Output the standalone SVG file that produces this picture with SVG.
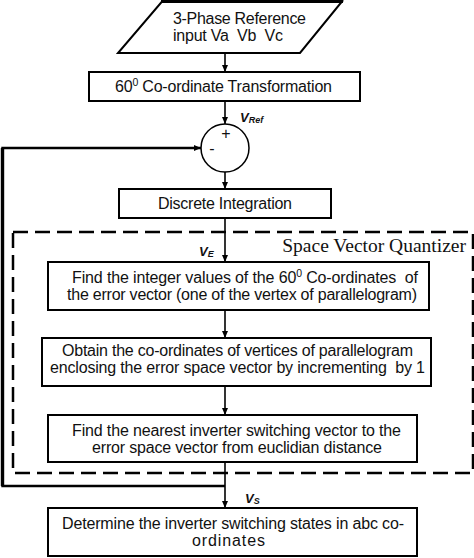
<svg xmlns="http://www.w3.org/2000/svg" width="474" height="558" viewBox="0 0 474 558">
<defs>
<marker id="ah" markerWidth="8" markerHeight="6" refX="7" refY="3" orient="auto" markerUnits="userSpaceOnUse"><path d="M0,0 L7,3 L0,6 z" fill="#000"/></marker>
<style>
.box{fill:#fff;stroke:#000;stroke-width:2}
.t{font-family:"Liberation Sans",Arial,sans-serif;font-size:16px;fill:#111}
.lbl{font-family:"Liberation Sans",Arial,sans-serif;font-weight:bold;font-style:italic;fill:#111}
.c{fill:none;stroke:#000;stroke-width:1.6}
.sup{font-size:10.5px}
</style>
</defs>
<rect width="474" height="558" fill="#fff"/>

<g id="quantizer-frame">
<rect x="13" y="232" width="460" height="241" fill="none" stroke="#000" stroke-width="2.5" stroke-dasharray="15 7"/>
<text x="466" y="252" text-anchor="end" font-family="'Liberation Serif','Times New Roman',serif" font-size="19.5px" fill="#111">Space Vector Quantizer</text>
</g>

<g id="connectors">
<line class="c" x1="225" y1="54" x2="225" y2="72" marker-end="url(#ah)"/>
<line class="c" x1="225" y1="101" x2="225" y2="124" marker-end="url(#ah)"/>
<line class="c" x1="225" y1="172" x2="225" y2="189" marker-end="url(#ah)"/>
<line class="c" x1="225" y1="218" x2="225" y2="262" marker-end="url(#ah)"/>
<line class="c" x1="225" y1="310" x2="225" y2="338" marker-end="url(#ah)"/>
<line class="c" x1="225" y1="386" x2="225" y2="415" marker-end="url(#ah)"/>
<line class="c" x1="225" y1="462" x2="225" y2="508" marker-end="url(#ah)"/>
<polyline points="225,486 2.5,486 2.5,148 201,148" fill="none" stroke="#000" stroke-width="2.4" marker-end="url(#ah)"/>
<line x1="2.5" y1="148" x2="2.5" y2="486" stroke="#000" stroke-width="3.4"/>
<text class="lbl" x="240" y="122" font-size="13px">V<tspan font-size="9px" dy="1">Ref</tspan></text>
<text class="lbl" x="199" y="256" font-size="13px">V<tspan font-size="9px" dy="1">E</tspan></text>
<text class="lbl" x="245" y="503" font-size="13px">V<tspan font-size="9px" dy="1">S</tspan></text>
</g>

<g id="input">
<polygon class="box" points="162,1.5 342,1.5 300,53 118,53"/>
<line x1="161" y1="1.5" x2="343" y2="1.5" stroke="#000" stroke-width="3"/>
<text class="t" x="173" y="24" textLength="133" lengthAdjust="spacing">3-Phase Reference</text>
<text class="t" x="173" y="41" textLength="110" lengthAdjust="spacing" xml:space="preserve">input Va  Vb  Vc</text>
</g>

<g id="transform">
<rect class="box" x="89" y="72" width="271" height="29"/>
<text class="t" x="115" y="92" textLength="217" lengthAdjust="spacing">60<tspan class="sup" dy="-6">0</tspan><tspan dy="6"> Co-ordinate Transformation</tspan></text>
</g>

<g id="summer">
<circle cx="225" cy="148" r="24" fill="#fff" stroke="#000" stroke-width="1.5"/>
<text class="t" x="226" y="139" text-anchor="middle" font-size="15px">+</text>
<text class="t" x="212" y="154" text-anchor="middle" font-size="13px">-</text>
</g>

<g id="integration">
<rect class="box" x="119" y="189" width="212" height="29"/>
<text class="t" x="225" y="208.5" text-anchor="middle" textLength="134" lengthAdjust="spacing">Discrete Integration</text>
</g>

<g id="find-integer">
<rect class="box" x="48" y="262" width="381" height="48"/>
<text class="t" x="72" y="282.5" textLength="346" lengthAdjust="spacing" xml:space="preserve">Find the integer values of the 60<tspan class="sup" dy="-6">0</tspan><tspan dy="6"> Co-ordinates  of</tspan></text>
<text class="t" x="67" y="299.5" textLength="350" lengthAdjust="spacing">the error vector (one of the vertex of parallelogram)</text>
</g>

<g id="obtain-vertices">
<rect class="box" x="42" y="338" width="389" height="48"/>
<text class="t" x="62" y="355.5" textLength="351" lengthAdjust="spacing">Obtain the co-ordinates of vertices of parallelogram</text>
<text class="t" x="50" y="372.5" textLength="375" lengthAdjust="spacing" xml:space="preserve">enclosing the error space vector by incrementing  by 1</text>
</g>

<g id="nearest">
<rect class="box" x="48" y="415" width="369" height="47"/>
<text class="t" x="72" y="435.5" textLength="329" lengthAdjust="spacing">Find the nearest inverter switching vector to the</text>
<text class="t" x="92" y="452.5" textLength="290" lengthAdjust="spacing">error space vector from euclidian distance</text>
</g>

<g id="determine">
<rect class="box" x="48" y="508" width="369" height="48"/>
<text class="t" x="62" y="528.5" textLength="342" lengthAdjust="spacing">Determine the inverter switching states in abc co-</text>
<text class="t" x="192" y="545.5" textLength="73" lengthAdjust="spacing">ordinates</text>
</g>
</svg>
